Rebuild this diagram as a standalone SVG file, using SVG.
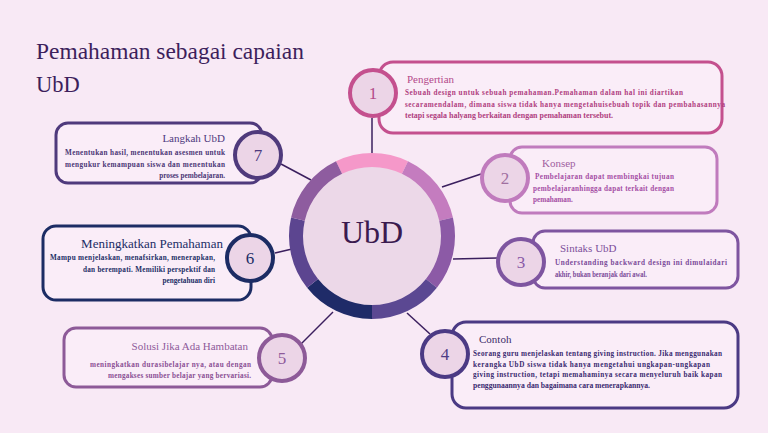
<svg xmlns="http://www.w3.org/2000/svg" width="768" height="433" viewBox="0 0 768 433">
<style>
.t{font-family:"Liberation Serif","DejaVu Serif",serif}
.title{font-size:11px}
.body{font-size:7.2px;font-weight:bold}
.num{font-size:17px;text-anchor:middle}
.box{stroke-width:3;fill:#faedf8}
.nc{stroke-width:4;fill:#ecd5e7}
.conn line{stroke:#3b1f5e;stroke-width:1.5}
.ring path{fill:none;stroke-width:14}
</style>
<rect width="768" height="433" fill="#f8e9f5"/>
<text class="t" x="36" y="59" font-size="22.5" fill="#3d1f5c" textLength="268" lengthAdjust="spacingAndGlyphs">Pemahaman sebagai capaian</text>
<text class="t" x="36" y="92" font-size="22.5" fill="#3d1f5c">UbD</text>

<g id="connectors" class="conn">
<line x1="372" y1="118" x2="372" y2="153"/>
<line x1="442" y1="187" x2="481" y2="174"/>
<line x1="453" y1="259" x2="497" y2="258"/>
<line x1="407" y1="313" x2="430" y2="334"/>
<line x1="333" y1="312" x2="300" y2="345"/>
<line x1="275" y1="253" x2="292" y2="249"/>
<line x1="281" y1="164" x2="311" y2="180"/>
</g>

<g id="center">
<circle cx="372" cy="236" r="70" fill="#ecd8e8"/>
<g class="ring">
<path d="M339.02 167.53 A76 76 0 0 1 404.98 167.53" stroke="#f598c9"/>
<path d="M404.98 167.53 A76 76 0 0 1 446.09 219.09" stroke="#c47cbf"/>
<path d="M446.09 219.09 A76 76 0 0 1 431.42 283.39" stroke="#8c5aa6"/>
<path d="M431.42 283.39 A76 76 0 0 1 372 312" stroke="#5b4892"/>
<path d="M372 312 A76 76 0 0 1 312.58 283.39" stroke="#1f2b68"/>
<path d="M312.58 283.39 A76 76 0 0 1 297.91 219.09" stroke="#5c4590"/>
<path d="M297.91 219.09 A76 76 0 0 1 339.02 167.53" stroke="#8e5c9f"/>
</g>
<text class="t" x="372" y="243" font-size="32" text-anchor="middle" fill="#3b1a4f">UbD</text>
</g>

<g id="node1">
<rect class="box" x="379" y="62" width="343" height="71" rx="14" stroke="#c4508e"/>
<circle class="nc" cx="373" cy="93" r="23" stroke="#c4508e"/>
<text class="t num" x="373" y="99" fill="#b44a8a">1</text>
<text class="t title" x="407" y="83" fill="#b44a8a">Pengertian</text>
<g class="t body" fill="#b0407f">
<text x="405" y="95" textLength="278" lengthAdjust="spacing">Sebuah design untuk sebuah pemahaman.Pemahaman dalam hal ini diartikan</text>
<text x="405" y="106.5" textLength="320" lengthAdjust="spacing">secaramendalam, dimana siswa tidak hanya mengetahuisebuah topik dan pembahasannya</text>
<text x="405" y="118" textLength="208" lengthAdjust="spacingAndGlyphs">tetapi segala halyang berkaitan dengan pemahaman tersebut.</text>
</g>
</g>

<g id="node2">
<rect class="box" x="510" y="147" width="207" height="66" rx="12" stroke="#c07bbd"/>
<circle class="nc" cx="505" cy="178" r="23" stroke="#c07bbd"/>
<text class="t num" x="505" y="184" fill="#a070a0">2</text>
<text class="t title" x="542" y="167" fill="#a0609f">Konsep</text>
<g class="t body" fill="#a54fa5">
<text x="535" y="179" textLength="139" lengthAdjust="spacing">Pembelajaran dapat membingkai tujuan</text>
<text x="533" y="190.5" textLength="141" lengthAdjust="spacing">pembelajaranhingga dapat terkait dengan</text>
<text x="533" y="202">pemahaman.</text>
</g>
</g>

<g id="node3">
<rect class="box" x="533" y="231" width="205" height="57" rx="12" stroke="#7e55a0"/>
<circle class="nc" cx="521" cy="262" r="23" stroke="#7e55a0"/>
<text class="t num" x="521" y="268" fill="#8a5aa8">3</text>
<text class="t title" x="560" y="252" fill="#7d4f9a">Sintaks UbD</text>
<g class="t body" fill="#7a4a98">
<text x="555" y="265" textLength="172" lengthAdjust="spacing">Understanding backward design ini dimulaidari</text>
<text x="555" y="277" textLength="92" lengthAdjust="spacingAndGlyphs">akhir, bukan beranjak dari awal.</text>
</g>
</g>

<g id="node4">
<rect class="box" x="452" y="322" width="286" height="86" rx="14" stroke="#4b3a84"/>
<circle class="nc" cx="445" cy="354" r="23" stroke="#4b3a84"/>
<text class="t num" x="445" y="360" fill="#4e3d85">4</text>
<text class="t title" x="479" y="343" fill="#3d2e6a">Contoh</text>
<g class="t body" fill="#3a2a70">
<text x="473" y="356" textLength="249" lengthAdjust="spacing">Seorang guru menjelaskan tentang giving instruction. Jika menggunakan</text>
<text x="473" y="366.5" textLength="237" lengthAdjust="spacing">kerangka UbD siswa tidak hanya mengetahui ungkapan-ungkapan</text>
<text x="473" y="377" textLength="249" lengthAdjust="spacing">giving instruction, tetapi memahaminya secara menyeluruh baik kapan</text>
<text x="473" y="387.5" textLength="177" lengthAdjust="spacingAndGlyphs">penggunaannya dan bagaimana cara menerapkannya.</text>
</g>
</g>

<g id="node5">
<rect class="box" x="64" y="328" width="208" height="59" rx="12" stroke="#8d5a98"/>
<circle class="nc" cx="282" cy="358" r="23" stroke="#8d5a98"/>
<text class="t num" x="282" y="364" fill="#8e5a9a">5</text>
<text class="t title" x="248" y="350" text-anchor="end" fill="#8e5a9a">Solusi Jika Ada Hambatan</text>
<g class="t body" fill="#8a4f94">
<text x="90" y="367" textLength="161" lengthAdjust="spacing">meningkatkan durasibelajar nya, atau dengan</text>
<text x="108" y="378" textLength="143" lengthAdjust="spacing">mengakses sumber belajar yang bervariasi.</text>
</g>
</g>

<g id="node6">
<rect class="box" x="43" y="226" width="208" height="74" rx="13" stroke="#1c2c64"/>
<circle class="nc" cx="250" cy="258" r="23" stroke="#1c2c64"/>
<text class="t num" x="250" y="264" fill="#1c2d66">6</text>
<text class="t" x="223" y="248" font-size="13" text-anchor="end" fill="#1c2d66">Meningkatkan Pemahaman</text>
<g class="t body" fill="#1c2d66">
<text x="50" y="260" textLength="165" lengthAdjust="spacing">Mampu menjelaskan, menafsirkan, menerapkan,</text>
<text x="83" y="271.5" textLength="132" lengthAdjust="spacing">dan berempati. Memiliki perspektif dan</text>
<text x="215" y="283" text-anchor="end">pengetahuan diri</text>
</g>
</g>

<g id="node7">
<rect class="box" x="56" y="123" width="206" height="60" rx="12" stroke="#4f3a7c"/>
<circle class="nc" cx="258" cy="155" r="23" stroke="#4f3a7c"/>
<text class="t num" x="258" y="161" fill="#4e3a7e">7</text>
<text class="t title" x="225" y="142" text-anchor="end" fill="#4e3a7e">Langkah UbD</text>
<g class="t body" fill="#4a3575">
<text x="65" y="155" textLength="160" lengthAdjust="spacing">Menentukan hasil, menentukan asesmen untuk</text>
<text x="65" y="166.5" textLength="160" lengthAdjust="spacing">mengukur kemampuan siswa dan menentukan</text>
<text x="225" y="178" text-anchor="end">proses pembelajaran.</text>
</g>
</g>
</svg>
